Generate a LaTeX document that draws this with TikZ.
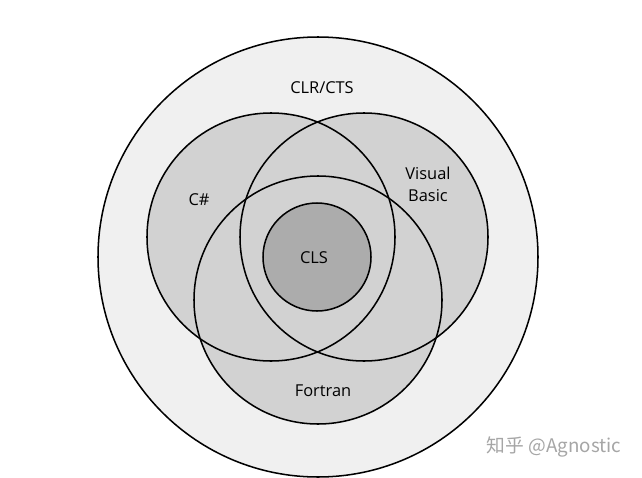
\documentclass[tikz,border=0pt]{standalone}
\usepackage{fontspec}
\setmainfont{Open Sans}
\newfontfamily\cjk{Noto Sans CJK SC}
\begin{document}
\begin{tikzpicture}[x=0.03cm,y=-0.03cm,
  ring/.style={draw=black,line width=1.3pt},
  lbl/.style={font=\fontsize{14}{19}\selectfont,align=center}]
\useasboundingbox (0,0) rectangle (642,478);
\fill[white] (0,0) rectangle (642,478);
\begin{scope}
\clip (0,0) rectangle (642,478);
\draw[ring,fill=gray!12] (318,257) circle[radius=220];
\fill[gray!35] (271,237) circle[radius=124];
\fill[gray!35] (364,237) circle[radius=124];
\fill[gray!35] (318,300) circle[radius=124];
\draw[ring] (271,237) circle[radius=124];
\draw[ring] (364,237) circle[radius=124];
\draw[ring] (318,300) circle[radius=124];
\draw[ring,fill=gray!65] (317,257) circle[radius=54];
\end{scope}
\node[lbl] (clr) at (322,88) {CLR/CTS};
\node[lbl] (cs) at (199,200) {C\#};
\node[lbl] (vb) at (428,184) {Visual\\Basic};
\node[lbl] (cls) at (314,258) {CLS};
\node[lbl] (ft) at (323,391) {Fortran};
\node[font=\cjk\fontsize{16}{18}\selectfont,text=gray!70] (wm) at (554,447) {知乎 @Agnostic};
\end{tikzpicture}
\end{document}
